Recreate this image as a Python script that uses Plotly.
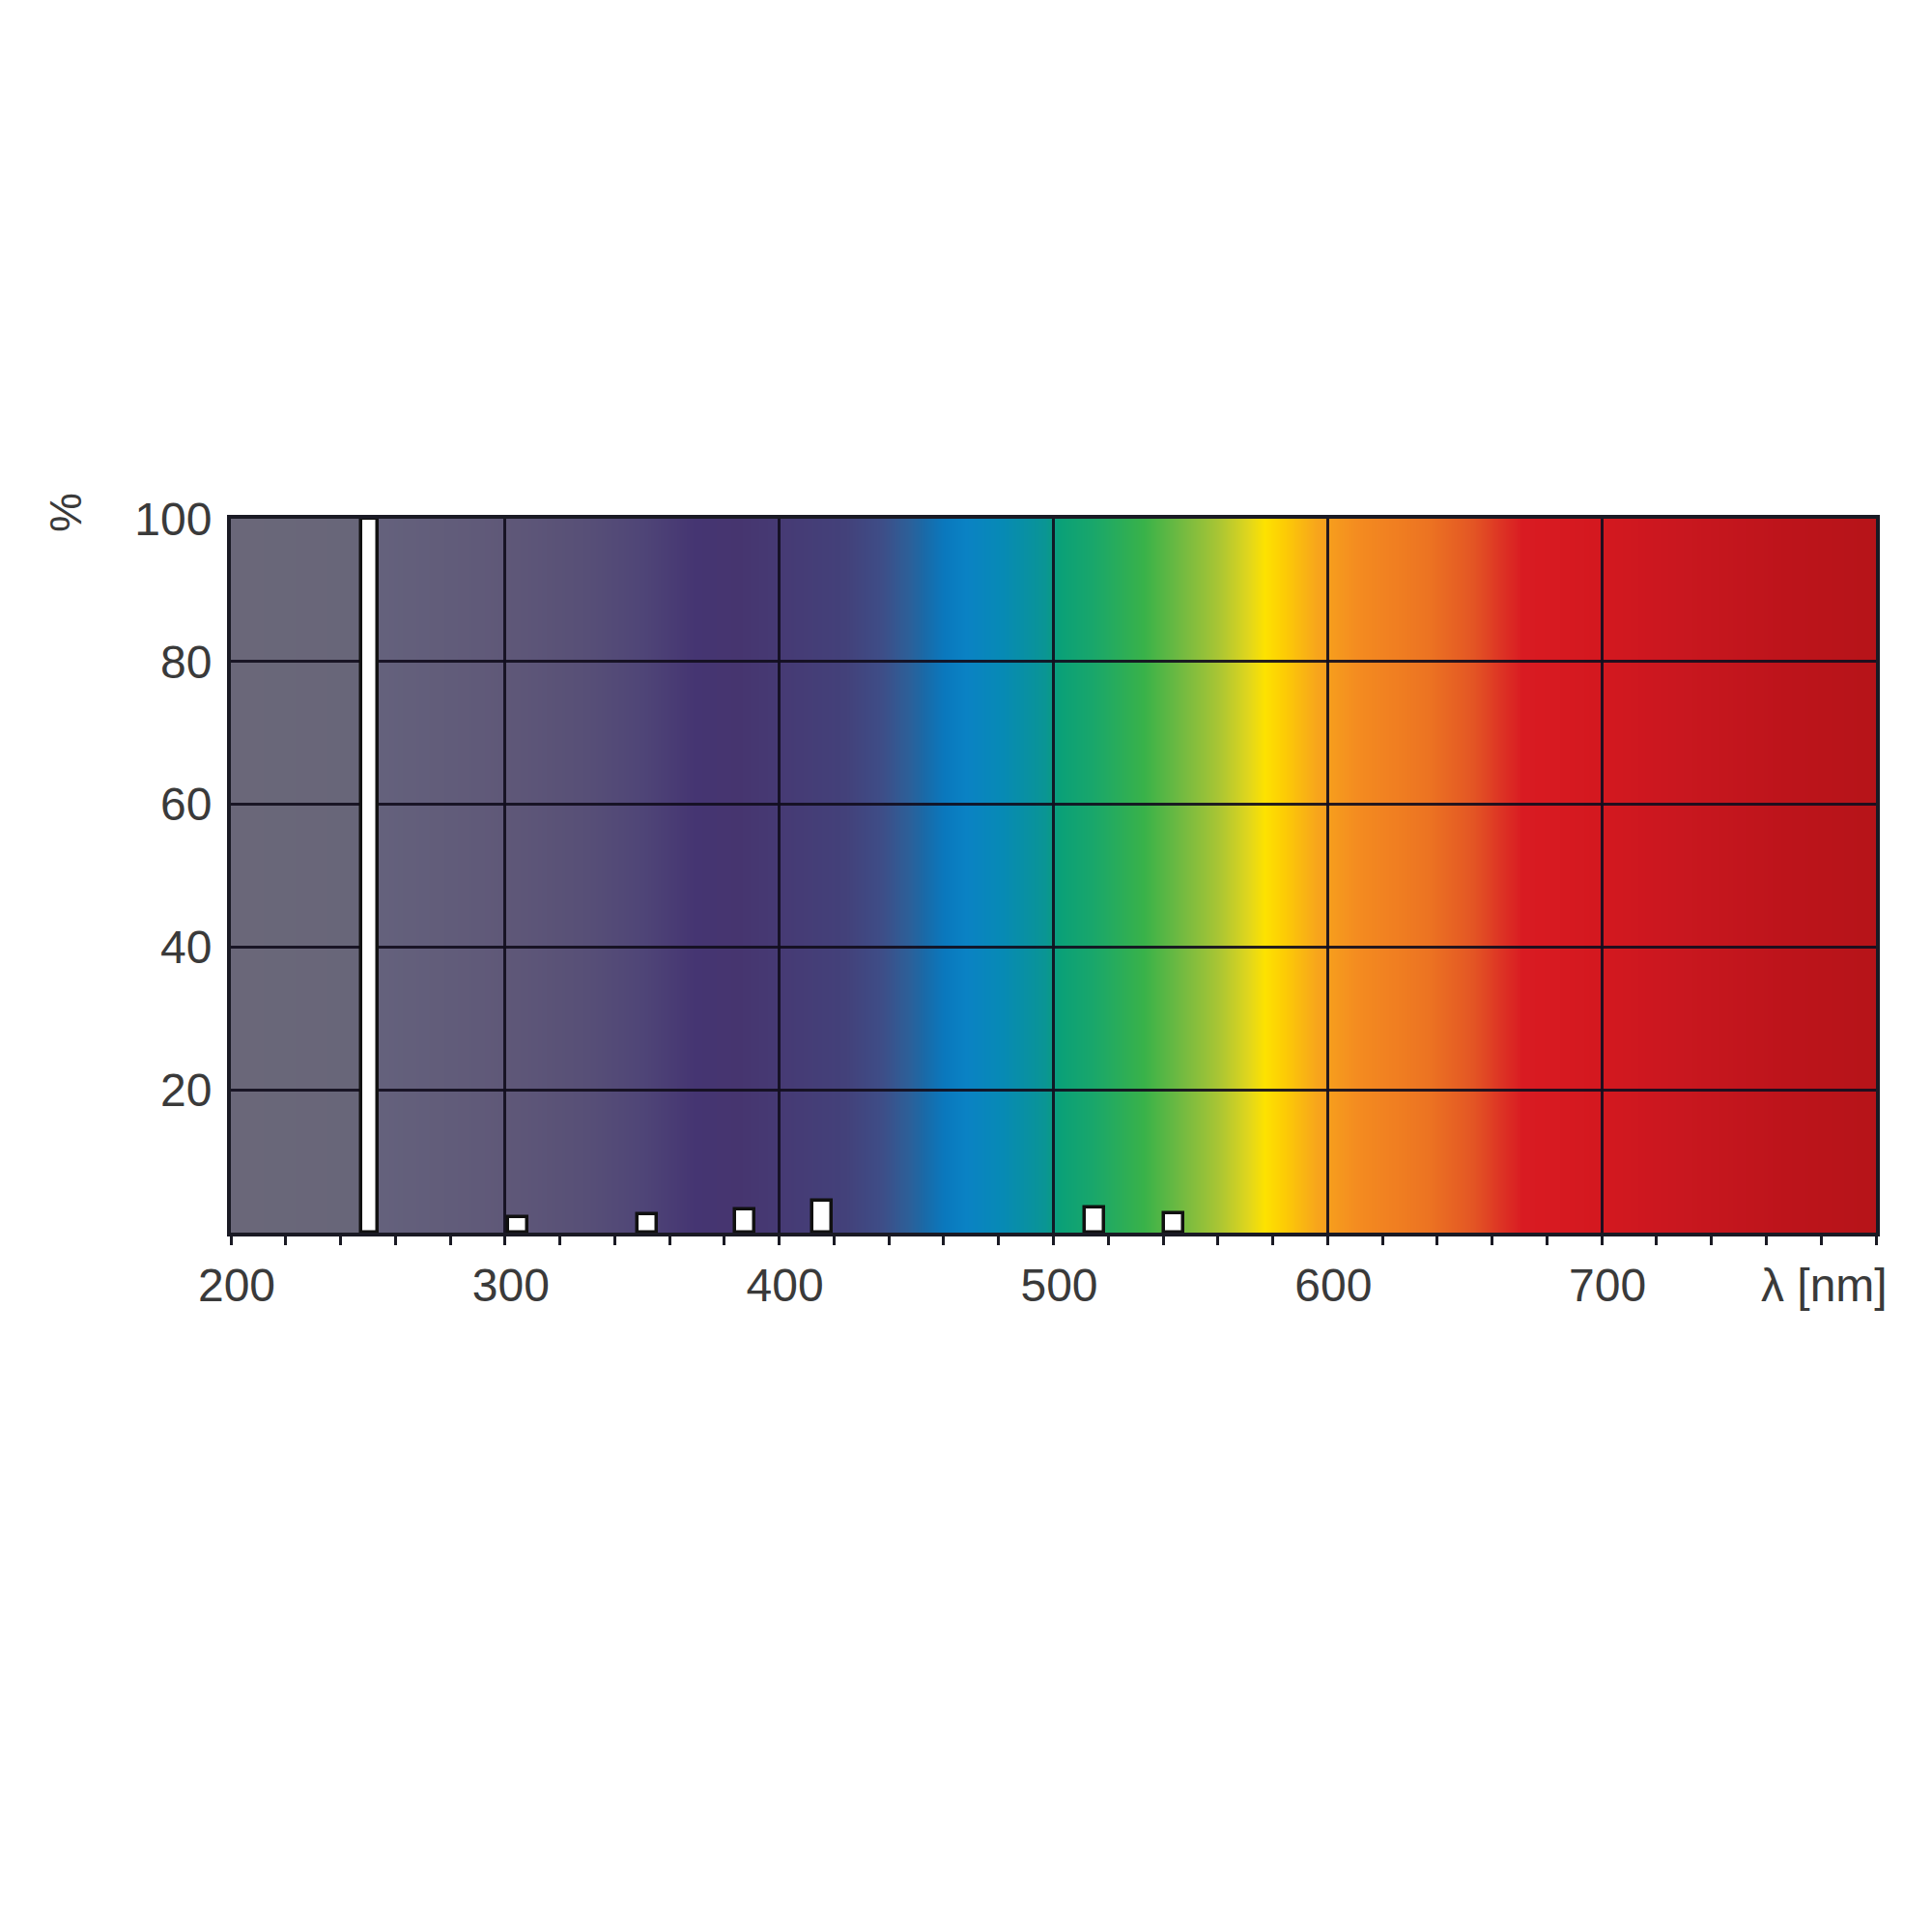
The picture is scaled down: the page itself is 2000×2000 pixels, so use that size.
import plotly.graph_objects as go

# colour stops of the spectrum background (wavelength in nm -> colour)
stop_nm = [200, 247, 255, 300, 330, 350, 369, 385, 400, 424, 437, 447, 453, 460,
           468, 481, 497, 502, 515, 533, 548, 560, 571, 577, 584, 596, 611, 637,
           653, 663, 671, 698, 728, 767, 800]
stop_colors = ["#6a6779", "#686679", "#64617c", "#5f5878", "#574f77", "#4f4577",
               "#453572", "#46356f", "#463a74", "#43417a", "#3e4d87", "#2d5f98",
               "#1a6aa8", "#0a78bd", "#0a82c4", "#078ab5", "#0a9594", "#0aa078",
               "#1aa76a", "#39b249", "#78bb40", "#a9c534", "#e0d61d", "#fde200",
               "#fdcc05", "#f7a51c", "#f48b20", "#ec7322", "#e35524", "#dd3424",
               "#d91b22", "#d4181f", "#c9171f", "#bd141b", "#b61419"]

# emission lines
line_nm = [250.5, 304.5, 351.7, 387.3, 415.6, 515, 544]
line_pct = [100, 2.2, 2.6, 3.3, 4.4, 3.5, 2.7]
line_width = [6, 7, 7, 7, 7, 7, 7]

x_ticks = [200, 300, 400, 500, 600, 700]
y_ticks = [20, 40, 60, 80, 100]

scale = [[(nm - 200) / 600, c] for nm, c in zip(stop_nm, stop_colors)]

font = dict(family="Liberation Sans, Arial", size=48, color="#3a3a3a")
grid = "rgba(18,14,30,0.92)"
edge = "#1a1a24"

fig = go.Figure()
fig.add_trace(go.Heatmap(x=stop_nm, y=[0, 100], z=[stop_nm, stop_nm],
                         colorscale=scale, zmin=200, zmax=800, zsmooth="best",
                         showscale=False, hoverinfo="skip", xaxis="x", yaxis="y"))
fig.add_trace(go.Bar(x=line_nm, y=line_pct, width=line_width,
                     marker=dict(color="white", line=dict(color="#111111", width=3.5)),
                     xaxis="x2", yaxis="y2", showlegend=False))

fig.update_layout(
    width=2000, height=2000,
    margin=dict(l=231, r=66, t=529, b=732),
    paper_bgcolor="white", plot_bgcolor="rgba(0,0,0,0)",
    showlegend=False, font=font,
    xaxis=dict(domain=[0, 1], range=[200, 800], visible=False, fixedrange=True),
    yaxis=dict(domain=[0, 1], range=[0, 100], visible=False, fixedrange=True),
    xaxis2=dict(domain=[0, 1], anchor="y2", range=[200, 800], tickmode="array",
                tickvals=x_ticks, ticks="outside", ticklen=9, tickwidth=3,
                tickcolor=edge, ticklabelstandoff=0, ticklabelshift=6,
                showgrid=True, gridcolor=grid, gridwidth=3, zeroline=False,
                showline=True, mirror=True, linecolor=edge, linewidth=4,
                minor=dict(dtick=20, tick0=200, ticks="outside", ticklen=9,
                           tickwidth=3, tickcolor=edge, showgrid=False),
                tickfont=font),
    yaxis2=dict(domain=[0, 1], anchor="x2", range=[0, 100], tickmode="array",
                tickvals=y_ticks, ticks="", ticklabelstandoff=6,
                showgrid=True, gridcolor=grid, gridwidth=3, zeroline=False,
                showline=True, mirror=True, linecolor=edge, linewidth=4,
                tickfont=font),
    bargap=0,
)

fig.add_annotation(text="%", xref="paper", yref="paper", x=-0.1, y=1.009,
                   xanchor="center", yanchor="middle",
                   showarrow=False, textangle=-90,
                   font=dict(size=46, color="#3a3a3a", family="Liberation Sans, Arial"))
fig.add_annotation(text="λ [nm]", xref="x2", yref="paper", x=800, y=0,
                   xanchor="right", yanchor="middle", xshift=14, yshift=-54,
                   showarrow=False, font=font)

fig.write_html("out.html")
